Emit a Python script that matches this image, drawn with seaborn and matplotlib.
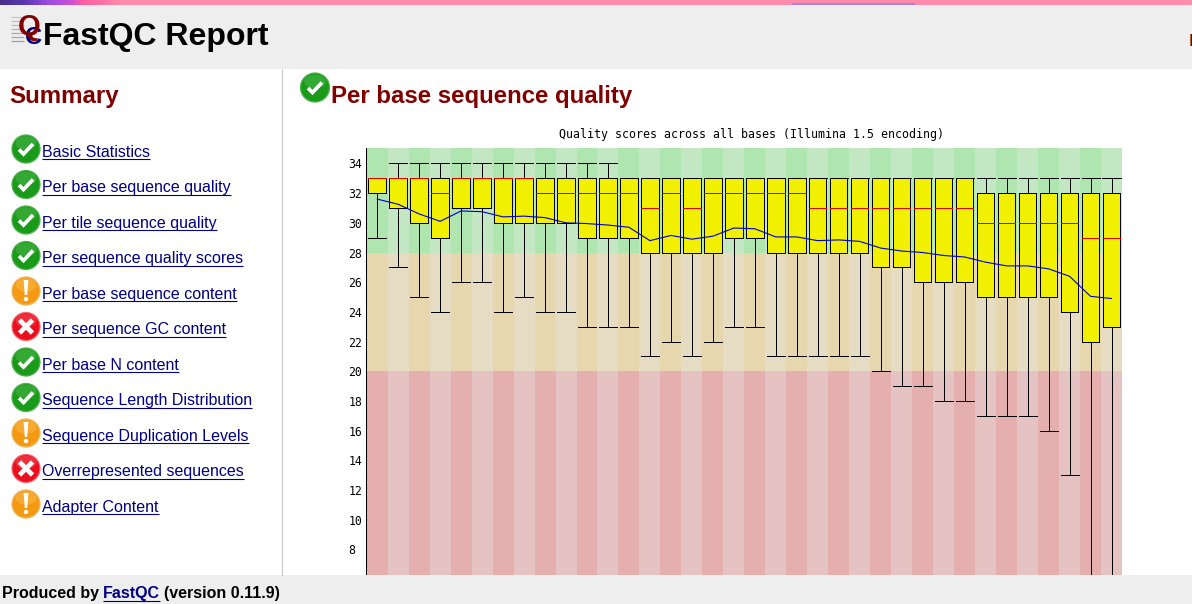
import numpy as np
import pandas as pd
import matplotlib
matplotlib.use("Agg")
import matplotlib.pyplot as plt
from matplotlib.colors import LinearSegmentedColormap
from matplotlib.patches import Circle, Rectangle, Ellipse, Polygon
import seaborn as sns

# ---------- data ----------
upper_whisker = [33,34,34,34,34,34,34,34,34,34,34,34,33,33,33,33,33,33,33,33,33,33,33,33,33,33,33,33,33,33,33,33,33,33,33,33]
upper_quart   = [33,33,33,33,33,33,33,33,33,33,33,33,33,33,33,33,33,33,33,33,33,33,33,33,33,33,33,33,33,32,32,32,32,32,32,32]
median        = [33,33,33,32,33,33,33,33,32,32,32,32,32,31,32,31,32,32,32,32,32,31,31,31,31,31,31,31,31,30,30,30,30,30,29,29]
lower_quart   = [32,31,30,29,31,31,30,30,30,30,29,29,29,28,28,28,28,29,29,28,28,28,28,28,27,27,26,26,26,25,25,25,25,24,22,23]
lower_whisker = [29,27,25,24,26,26,24,25,24,24,23,23,23,21,22,21,22,23,23,21,21,21,21,21,20,19,19,18,18,17,17,17,16,13,2,2]
mean_quality  = [31.6,31.25,30.6,30.1,30.8,30.75,30.4,30.45,30.35,30.0,29.95,29.85,29.7,28.8,29.15,28.9,29.1,29.65,
                 29.6,29.05,29.05,28.8,28.85,28.75,28.3,28.1,28.0,27.8,27.7,27.35,27.1,27.1,26.9,26.4,25.05,24.9]
y_ticks = [34,32,30,28,26,24,22,20,18,16,14,12,10,8]
zone_limits = [0,20,28,40]
zone_dark  = ["#E6AFAF","#E6D7AF","#AFE6AF"]
zone_light = ["#E6C3C3","#E6DCC3","#C3E6C3"]
chart_title = "Quality scores across all bases (Illumina 1.5 encoding)"
modules = ["Basic Statistics","Per base sequence quality","Per tile sequence quality","Per sequence quality scores",
           "Per base sequence content","Per sequence GC content","Per base N content","Sequence Length Distribution",
           "Sequence Duplication Levels","Overrepresented sequences","Adapter Content"]
statuses = ["ok","ok","ok","ok","warn","fail","ok","ok","warn","fail","warn"]
# --------------------------------------------------

W, H = 1192, 604
sns.set_theme(style="white")
plt.rcParams["font.family"] = ["Liberation Sans", "DejaVu Sans"]
fig = plt.figure(figsize=(W/100, H/100), dpi=100, facecolor="white")

def box(l, t, r, b):
    return [l/W, 1-b/H, (r-l)/W, (b-t)/H]

# ---------- chart ----------
ax = fig.add_axes(box(366.7, 148, 1122, 575), zorder=1)
n = len(median)
for i in range(n):
    cols = zone_dark if i % 2 == 0 else zone_light
    for z in range(3):
        ax.add_patch(Rectangle((i-.5, zone_limits[z]), 1, zone_limits[z+1]-zone_limits[z],
                               facecolor=cols[z], edgecolor="none", zorder=0))
df = pd.DataFrame({
    "base": np.tile(np.arange(n), 5),
    "quality": np.concatenate([lower_whisker, lower_quart, median, upper_quart, upper_whisker]),
})
LW = 0.72
sns.boxplot(data=df, x="base", y="quality", whis=(0,100), width=.83, color="#F0F000", saturation=1,
            linecolor="black", linewidth=LW, fliersize=0, capwidths=.86,
            medianprops=dict(color="#E00000", linewidth=LW), ax=ax, zorder=2)
for ln in ax.lines:
    ln.set_antialiased(False)
for p in ax.patches:
    p.set_antialiased(False)
sns.lineplot(x=np.arange(n), y=mean_quality, color="#0000D0", linewidth=0.8, errorbar=None, legend=False, ax=ax, zorder=3)
for s in ["top","right","bottom"]:
    ax.spines[s].set_visible(False)
ax.spines["left"].set_position(("outward", 0.5))
ax.spines["left"].set_color("black")
ax.spines["left"].set_linewidth(0.75)
ax.set_xlim(-.5, n-.5)
ax.set_ylim(6.28, 35.04)
ax.set_xticks([])
ax.set_yticks(y_ticks)
ax.set_xlabel("")
ax.set_ylabel("")
ax.tick_params(axis="y", length=0, pad=12.6)
for lab in ax.get_yticklabels():
    lab.set_family("DejaVu Sans Mono")
    lab.set_fontsize(8.3)
    lab.set_color("black")
    lab.set_horizontalalignment("left")
ax.set_title(chart_title, x=0.51, pad=7.2, fontsize=8.35, family="DejaVu Sans Mono", color="black")
ax.patch.set_alpha(0)

# ---------- page furniture, in pixel coordinates ----------
pg = fig.add_axes([0,0,1,1], zorder=2)
pg.set_xlim(0, W); pg.set_ylim(H, 0); pg.axis("off"); pg.patch.set_alpha(0)

pg.add_patch(Rectangle((0,0), W, 69, fc="#EEEEEE", ec="none"))
pg.add_patch(Rectangle((0,575), W, 29, fc="#EEEEEE", ec="none"))
pg.plot([282.0,282.0],[69,575], color="#C8C8C8", lw=0.8)

strip = LinearSegmentedColormap.from_list("s", [(0,"#48308C"),(25/1192,"#6038B8"),(45/1192,"#9A4CE0"),
                                                (68/1192,"#C850D8"),(80/1192,"#FF5CA0"),(120/1192,"#FF8CAC"),(1,"#FF8DAD")])
pg.imshow(np.linspace(0,1,1192)[None,:], cmap=strip, extent=(0,W,5,0), aspect="auto", zorder=1)
pg.add_patch(Rectangle((792,3), 123, 2, fc="#A582EE", ec="none", zorder=2))
pg.set_xlim(0, W); pg.set_ylim(H, 0)
pg.add_patch(Rectangle((1190,34), 1, 12, fc="#C86400", ec="none"))
pg.add_patch(Rectangle((1191,34), 1, 12, fc="#1A1A1A", ec="none"))

# logo
for k, yy in enumerate(range(17, 44, 4)):
    pg.plot([11,24],[yy,yy], color="#8C8C8C", lw=0.9, alpha=.4+.07*k, solid_capstyle="butt")
pg.text(33.5, 44, "C", family="Liberation Sans", weight="bold", fontsize=17, color="#000080", ha="center", va="baseline")
pg.text(29.5, 35, "Q", family="Liberation Sans", weight="bold", fontsize=21, color="#800000", ha="center", va="baseline")

rend = fig.canvas.get_renderer()
def txt(x, y, s, size, color="black", weight="normal", link=False):
    t = pg.text(x, y, s, fontsize=size*.72, color=color, weight=weight, ha="left", va="baseline",
                family="Liberation Sans")
    bb = t.get_window_extent(rend)
    if link:
        pg.plot([bb.x0, bb.x1],[y+2.5,y+2.5], color=color, lw=0.8, solid_capstyle="butt")
    return bb

def icon(cx, cy, kind, r=14):
    base, edge, hi = {"ok":("#199A19","#4FB24F","#4DB84D"),
                      "warn":("#F39A12","#F0B560","#FBB94E"),
                      "fail":("#EA0F1E","#F06A70","#F5505A")}[kind]
    pg.add_patch(Circle((cx,cy), r, fc=base, ec=edge, lw=0.9, zorder=3))
    pg.add_patch(Ellipse((cx,cy-6), r*1.5, r*.95, fc=hi, ec="none", alpha=.5, zorder=3))
    if kind == "ok":
        pg.plot([cx-7,cx-2.5,cx+7],[cy+.5,cy+5,cy-5], color="white", lw=2.7, zorder=4, solid_capstyle="butt", solid_joinstyle="miter")
    elif kind == "warn":
        pg.add_patch(Polygon([(cx-2.4,cy-11),(cx+2.4,cy-11),(cx+1.2,cy+4),(cx-1.2,cy+4)], fc="white", ec="none", zorder=4))
        pg.add_patch(Circle((cx,cy+8), 2.2, fc="white", ec="none", zorder=4))
    else:
        pg.plot([cx-6.5,cx+6.5],[cy-6.5,cy+6.5], color="white", lw=3.4, zorder=4, solid_capstyle="butt")
        pg.plot([cx-6.5,cx+6.5],[cy+6.5,cy-6.5], color="white", lw=3.4, zorder=4, solid_capstyle="butt")

txt(43, 45, "FastQC Report", 32, weight="bold")
txt(9.5, 103, "Summary", 24, color="#800000", weight="bold")
icon(315, 87.5, "ok", r=14.5)
txt(331, 103, "Per base sequence quality", 24, color="#800000", weight="bold")

LINK = "#000080"
for i, (m, st) in enumerate(zip(modules, statuses)):
    icon(26, 149+35.5*i, st)
    txt(42, 156.8+35.5*i, m, 16, color=LINK, link=True)

txt(2, 598, "Produced by ", 16, weight="bold")
txt(103, 598, "FastQC", 16, color=LINK, weight="bold", link=True)
txt(164.5, 598, "(version 0.11.9)", 16, weight="bold")

fig.savefig("out.png", dpi=100)
